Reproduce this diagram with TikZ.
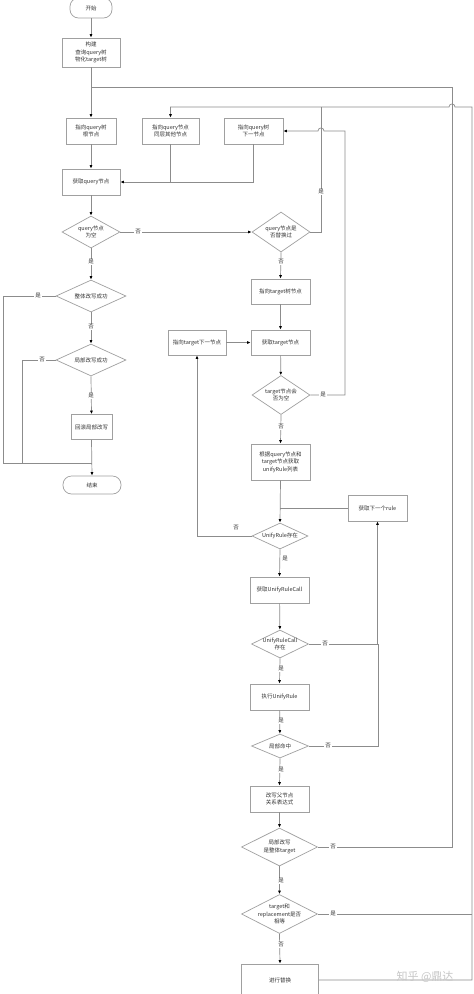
\documentclass[tikz,border=0pt]{standalone}
\usepackage{fontspec}
\setmainfont{Noto Sans CJK SC}
\usetikzlibrary{shapes.geometric,arrows.meta}
\definecolor{lncol}{HTML}{8C8C8C}
\definecolor{bdcol}{HTML}{A0A0A0}
\definecolor{txcol}{HTML}{333333}
\begin{document}
\begin{tikzpicture}[x=1pt,y=-1pt,
  every node/.style={font=\fontsize{5.5}{7.5}\selectfont, text=txcol},
  box/.style={draw=bdcol, line width=0.7pt, fill=white, align=center, inner sep=1pt},
  term/.style={box, rounded corners=8.5pt},
  dia/.style={draw=bdcol, line width=0.7pt, fill=white, diamond, inner sep=0pt, aspect=2},
  dtext/.style={align=center, inner sep=0pt},
  wire/.style={draw=lncol, line width=0.7pt},
  ar/.style={wire, -{Latex[length=3.5pt,width=3pt,color=black]}},
  lab/.style={fill=white, inner sep=0.8pt}
]
\useasboundingbox (0,0) rectangle (474,994);
\fill[white] (0,0) rectangle (474,994);

% left column
\node[term, minimum width=42pt, minimum height=20pt] (start) at (91,8) {开始};
\node[box, minimum width=58pt, minimum height=29pt] (build) at (91,52.5) {构建\\查询query树\\物化target树};
\node[box, minimum width=50pt, minimum height=26pt] (root) at (91,131) {指向query树\\根节点};
\node[box, minimum width=57pt, minimum height=26pt] (sib) at (170.5,131) {指向query节点\\同层其他节点};
\node[box, minimum width=59pt, minimum height=26pt] (next) at (253.5,131) {指向query树\\下一节点};
\node[box, minimum width=58pt, minimum height=26pt] (getq) at (91,182) {获取query节点};
\node[dia, minimum width=58pt, minimum height=32pt, label={[dtext]center:query节点\\为空}] (qnull) at (91,232) {};
\node[dia, minimum width=70pt, minimum height=32pt, label={[dtext]center:整体改写成功}] (whole) at (91,296) {};
\node[dia, minimum width=70pt, minimum height=32pt, label={[dtext]center:局部改写成功}] (part) at (91,360) {};
\node[box, minimum width=41pt, minimum height=25pt] (rollback) at (91.5,427) {回滚局部改写};
\node[term, minimum width=58pt, minimum height=18pt] (end) at (92,485) {结束};

% right column
\node[dia, minimum width=58pt, minimum height=40pt, label={[dtext]center:query节点是\\否替换过}] (replaced) at (281,232) {};
\node[box, minimum width=59pt, minimum height=25pt] (troot) at (280.5,291.5) {指向target树节点};
\node[box, minimum width=59pt, minimum height=25pt] (gett) at (280.5,342.5) {获取target节点};
\node[box, minimum width=58pt, minimum height=25pt] (tnext) at (197,342.5) {指向target下一节点};
\node[dia, minimum width=58pt, minimum height=39pt, label={[dtext]center:target节点会\\否为空}] (tnull) at (281,395) {};
\node[box, minimum width=59pt, minimum height=36pt] (list) at (280.5,462) {根据query节点和\\target节点获取\\unifyRule列表};
\node[box, minimum width=59pt, minimum height=26pt] (nextrule) at (377.5,508) {获取下一个rule};
\node[dia, minimum width=56pt, minimum height=26pt, label={[dtext]center:UnifyRule存在}] (ruleex) at (280,536) {};
\node[box, minimum width=59pt, minimum height=26pt] (getcall) at (279.5,590) {获取UnifyRuleCall};
\node[dia, minimum width=57pt, minimum height=28pt, label={[dtext]center:UnifyRuleCall\\存在}] (callex) at (280,644) {};
\node[box, minimum width=59pt, minimum height=26pt] (exec) at (279.5,697) {执行UnifyRule};
\node[dia, minimum width=57pt, minimum height=24pt, label={[dtext]center:局部命中}] (hit) at (280,746) {};
\node[box, minimum width=59pt, minimum height=26pt] (rewrite) at (279.5,799) {改写父节点\\关系表达式};
\node[dia, minimum width=76pt, minimum height=38pt, label={[dtext]center:局部改写\\是整体target}] (istarget) at (279.5,847) {};
\node[dia, minimum width=76pt, minimum height=39pt, label={[dtext]center:target和\\replacement是否\\相等}] (equal) at (279.5,914) {};
\node[box, minimum width=77pt, minimum height=32pt] (replace) at (280,980) {进行替换};

% junction coordinates
\coordinate (j1) at (91,87);
\coordinate (jL) at (452,87);
\coordinate (jR) at (472,107);
\coordinate (jS) at (170.5,107);
\coordinate (jE) at (472,914);
\coordinate (jQ) at (170.5,182);
\coordinate (jEnd) at (92,463);
\coordinate (jRule) at (280,508);
\coordinate (jHit) at (378,644);

% left column connectors
\draw[ar] (start) -- (build);
\draw[ar] (build) -- (root);
\draw[wire] (istarget.east) -| (jL) -- (j1);
\draw[ar] (root) -- (getq);
\draw[ar] (sib.south) -- (jQ) -- (getq.east);
\draw[wire] (next.south) |- (jQ);
\draw[ar] (getq) -- (qnull);
\draw[ar] (qnull.east) -- (replaced.west);
\draw[ar] (qnull.south) -- (whole.north);
\draw[wire] (whole.west) -- (3,296) -- (3,463) -- (jEnd);
\draw[ar] (whole.south) -- (part.north);
\draw[wire] (part.west) -- (22,360) -- (22,463);
\draw[ar] (part.south) -- (rollback.north);
\draw[ar] (rollback.south) -- (end.north);

% right column connectors
\draw[wire] (replaced.east) -| (321,107);
\draw[wire] (equal.east) -- (jE);
\draw[ar] (replace.east) -| (jR) -- (455,107) .. controls (455,103) and (449,103) .. (449,107) -- (jS) -- (sib.north);
\draw[ar] (replaced.south) -- (troot.north);
\draw[ar] (troot) -- (gett);
\draw[ar] (tnext) -- (gett);
\draw[ar] (gett) -- (tnull);
\draw[ar] (tnull.east) -| (345,131) -- (324,131) .. controls (324,127) and (318,127) .. (318,131) -- (next.east);
\draw[ar] (tnull.south) -- (list.north);
\draw[ar] (list.south) -- (ruleex.north);
\draw[wire] (nextrule.west) -- (jRule);
\draw[ar] (ruleex.west) -| (tnext.south);
\draw[ar] (ruleex.south) -- (getcall.north);
\draw[ar] (getcall) -- (callex);
\draw[ar] (callex.east) -| (nextrule.south);
\draw[ar] (callex.south) -- (exec.north);
\draw[ar] (exec) -- (hit);
\draw[wire] (hit.east) -| (jHit);
\draw[ar] (hit.south) -- (rewrite.north);
\draw[ar] (rewrite) -- (istarget);
\draw[ar] (istarget.south) -- (equal.north);
\draw[ar] (equal.south) -- (replace.north);

% edge labels
\node[lab] (l1) at (138,232) {否};
\node[lab] (l2) at (91,262) {是};
\node[lab] (l3) at (38,296) {是};
\node[lab] (l4) at (91,327) {否};
\node[lab] (l5) at (42,360) {否};
\node[lab] (l6) at (91,396) {是};
\node[lab] (l7) at (321,192) {是};
\node[lab] (l8) at (281,262) {否};
\node[lab] (l9) at (323,395) {是};
\node[lab] (l10) at (281,427) {否};
\node[lab] (l11) at (236,528) {否};
\node[lab] (l12) at (285,559) {是};
\node[lab] (l13) at (325,644) {否};
\node[lab] (l14) at (281,669) {是};
\node[lab] (l15) at (281,721) {是};
\node[lab] (l16) at (328,746) {否};
\node[lab] (l17) at (281,770) {是};
\node[lab] (l18) at (333,847) {否};
\node[lab] (l19) at (281,881) {是};
\node[lab] (l20) at (333,914) {是};
\node[lab] (l21) at (281,945) {否};

% watermark
\node[text=black!22, font=\fontsize{11}{12}\selectfont] (wm) at (425,977) {知乎 @鼎达};
\end{tikzpicture}
\end{document}
